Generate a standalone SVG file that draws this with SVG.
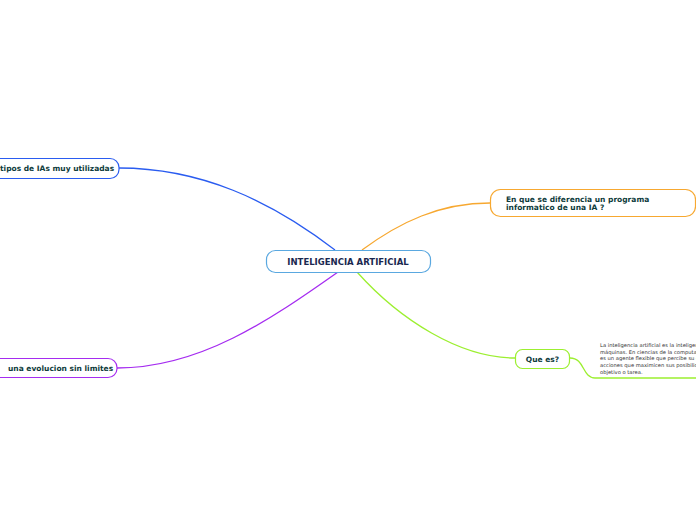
<svg xmlns="http://www.w3.org/2000/svg" width="696" height="520" viewBox="0 0 696 520">
<style>
.n{fill:#fff;stroke-width:1.2}
.t{font-family:Verdana,"DejaVu Sans",sans-serif;font-weight:bold;font-size:7.5px;fill:#0d3b3b}
.s{font-family:Verdana,"DejaVu Sans",sans-serif;font-size:5.2px;fill:#333}
.c{fill:none;stroke-width:1.3}
</style>
<rect width="696" height="520" fill="#fff"/>
<g id="connectors">
<path class="c" stroke="#2a5cf0" d="M335,250 C270,200 200,168 119,168"/>
<path class="c" stroke="#a52cf0" d="M338,272 C270,320 200,368 117,368"/>
<path class="c" stroke="#f7a830" d="M362,250 C400,222 440,203 490,203"/>
<path class="c" stroke="#9cef30" d="M357,272 C400,320 460,358 515,358"/>
<path class="c" stroke="#9cef30" d="M570,358 C585,358 582,378 595,378 L696,378"/>
</g>
<g id="central">
<rect class="n" stroke="#5aa8e0" x="266.5" y="250.5" width="164" height="22" rx="9"/>
<text class="t" x="348" y="264.5" text-anchor="middle" style="font-size:8.5px;fill:#1a2850">INTELIGENCIA ARTIFICIAL</text>
</g>
<g id="tipos">
<rect class="n" stroke="#2a5cf0" x="-20" y="158.5" width="139" height="20" rx="9"/>
<text class="t" x="0" y="171">tipos de IAs muy utilizadas</text>
</g>
<g id="evolucion">
<rect class="n" stroke="#a52cf0" x="-20" y="358.5" width="137" height="19" rx="9"/>
<text class="t" x="8" y="370.5">una evolucion sin limites</text>
</g>
<g id="diferencia">
<rect class="n" stroke="#f7a830" x="490.5" y="189.5" width="205" height="27" rx="10"/>
<text class="t" x="506" y="202">En que se diferencia un programa</text>
<text class="t" x="506" y="210">informatico de una IA ?</text>
</g>
<g id="quees">
<rect class="n" stroke="#9cef30" x="515.5" y="349.5" width="54" height="19" rx="7"/>
<text class="t" x="542.5" y="361.5" text-anchor="middle">Que es?</text>
</g>
<g id="definicion">
<text class="s" x="600" y="346.5">La inteligencia artificial es la inteligencia llevada a cabo por</text>
<text class="s" x="600" y="353.5">máquinas. En ciencias de la computación, una máquina</text>
<text class="s" x="600" y="360">es un agente flexible que percibe su entorno y lleva a cabo</text>
<text class="s" x="600" y="367">acciones que maximicen sus posibilidades de éxito en algún</text>
<text class="s" x="600" y="373.5">objetivo o tarea.</text>
</g>
</svg>
